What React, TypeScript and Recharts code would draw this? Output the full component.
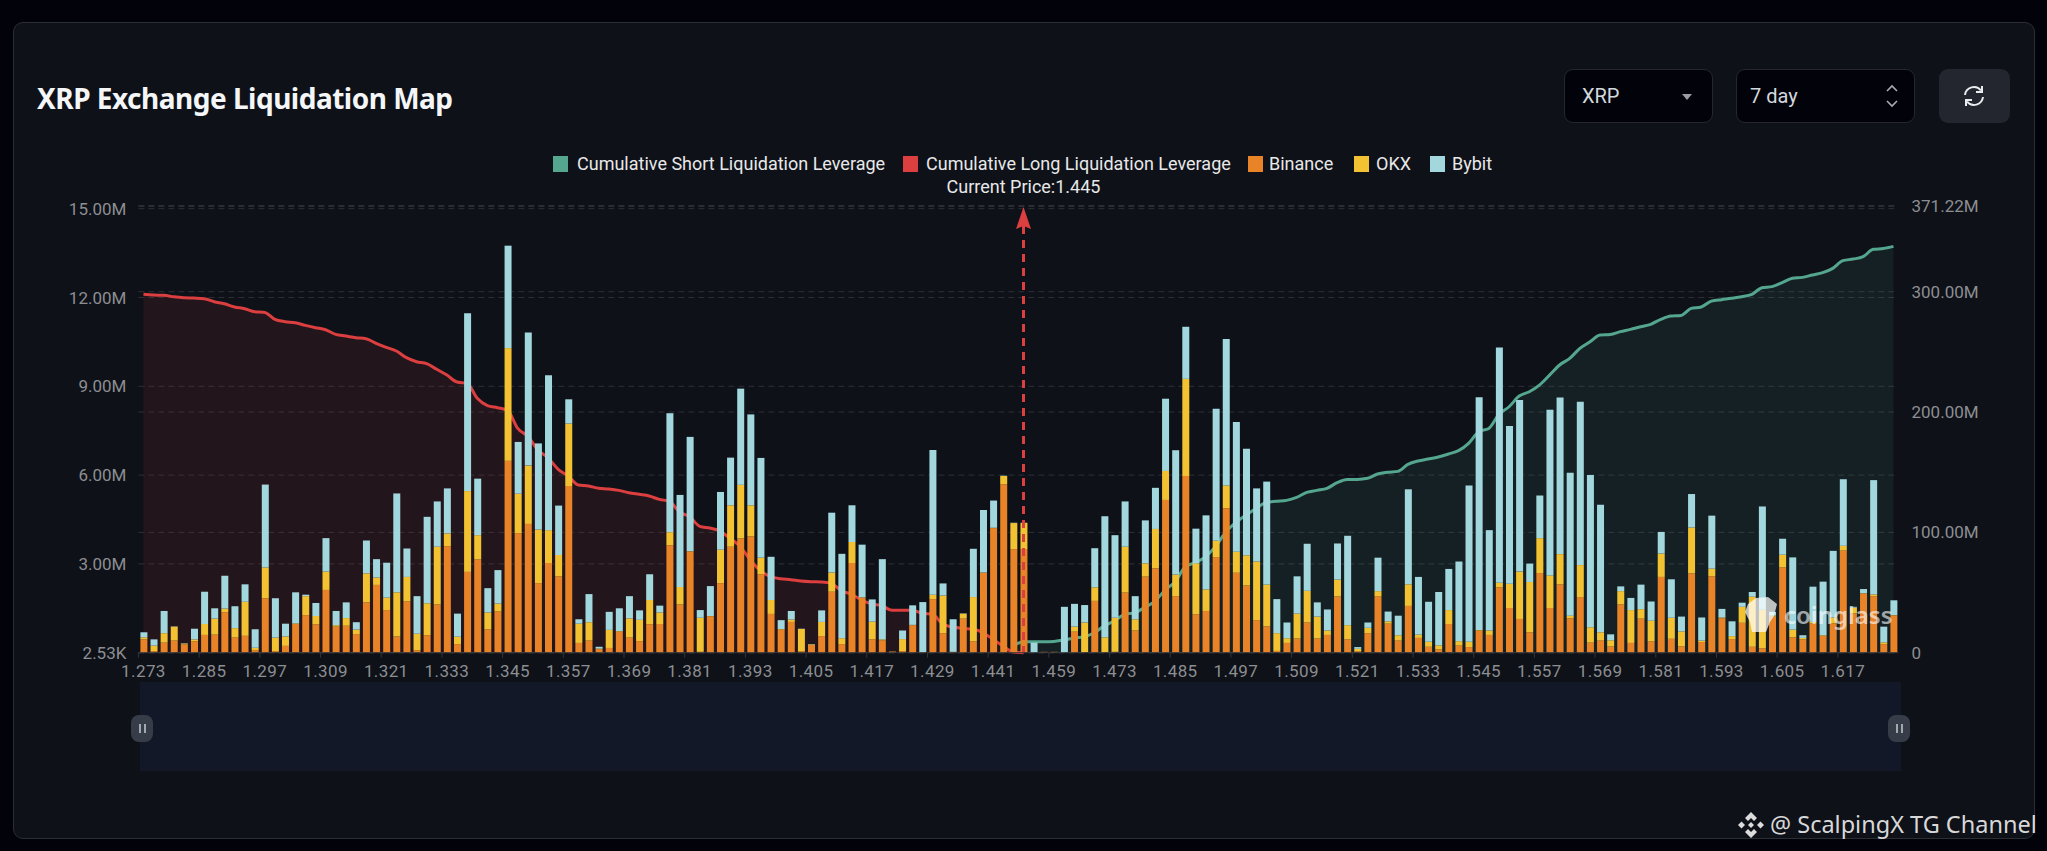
import {
  Area,
  Bar,
  CartesianGrid,
  ComposedChart,
  ReferenceLine,
  XAxis,
  YAxis,
} from "recharts"

const prices = [
  "1.273", "1.275", "1.277", "1.279", "1.281", "1.283", "1.285", "1.287", "1.289", "1.291",
  "1.293", "1.295", "1.297", "1.299", "1.301", "1.303", "1.305", "1.307", "1.309", "1.311",
  "1.313", "1.315", "1.317", "1.319", "1.321", "1.323", "1.325", "1.327", "1.329", "1.331",
  "1.333", "1.335", "1.337", "1.339", "1.341", "1.343", "1.345", "1.347", "1.349", "1.351",
  "1.353", "1.355", "1.357", "1.359", "1.361", "1.363", "1.365", "1.367", "1.369", "1.371",
  "1.373", "1.375", "1.377", "1.379", "1.381", "1.383", "1.385", "1.387", "1.389", "1.391",
  "1.393", "1.395", "1.397", "1.399", "1.401", "1.403", "1.405", "1.407", "1.409", "1.411",
  "1.413", "1.415", "1.417", "1.419", "1.421", "1.423", "1.425", "1.427", "1.429", "1.431",
  "1.433", "1.435", "1.437", "1.439", "1.441", "1.443", "1.444", "1.445", "1.451", "1.455",
  "1.459", "1.461", "1.463", "1.465", "1.467", "1.470", "1.473", "1.475", "1.477", "1.479",
  "1.481", "1.483", "1.485", "1.487", "1.489", "1.491", "1.493", "1.495", "1.497", "1.499",
  "1.501", "1.503", "1.505", "1.507", "1.509", "1.511", "1.513", "1.515", "1.517", "1.519",
  "1.521", "1.523", "1.525", "1.527", "1.529", "1.531", "1.533", "1.535", "1.537", "1.539",
  "1.541", "1.543", "1.545", "1.547", "1.549", "1.551", "1.553", "1.555", "1.557", "1.559",
  "1.561", "1.563", "1.565", "1.567", "1.569", "1.571", "1.573", "1.575", "1.577", "1.579",
  "1.581", "1.583", "1.585", "1.587", "1.589", "1.591", "1.593", "1.595", "1.597", "1.599",
  "1.601", "1.603", "1.605", "1.607", "1.609", "1.611", "1.613", "1.615", "1.617", "1.619",
  "1.621", "1.623", "1.625", "1.627",
]

// millions, per price level
const binance = [
  0.45, 0.05, 0.34, 0.41, 0.28, 0.38, 0.6, 0.61, 1.37, 0.51,
  0.57, 0.08, 1.84, 0.05, 0.23, 0.97, 1.27, 0.96, 2.12, 0.88,
  0.91, 0.63, 1.7, 2.29, 1.44, 0.55, 1.73, 0.08, 0.59, 1.63,
  3.6, 0.29, 2.73, 3.15, 0.79, 1.39, 6.48, 4.04, 4.35, 2.35,
  3.03, 2.58, 5.63, 0.33, 0.41, 0.12, 0.16, 0.71, 0.51, 0.39,
  0.96, 0.97, 3.63, 1.63, 3.42, 0.03, 1.23, 2.35, 3.58, 3.86,
  3.93, 2.65, 1.31, 0.78, 1.04, 0.05, 0.26, 0.56, 2.06, 0.29,
  3.03, 1.86, 0.45, 0.42, 0.03, 0.05, 0.93, 0.01, 1.81, 0.66,
  0.02, 1.15, 0.38, 2.7, 4.21, 5.69, 3.5, 3.5, 0, 0.03,
  0.03, 0, 0.71, 0.01, 1.75, 0.02, 0.03, 2.03, 0.75, 2.57,
  2.85, 5.16, 1.91, 5.97, 1.3, 1.41, 3.23, 4.88, 2.7, 2.27,
  1.1, 0.89, 0.06, 0.33, 0.48, 1.02, 0.48, 0.6, 1.9, 0.45,
  0.05, 0.66, 1.91, 0.98, 0.41, 1.58, 0.5, 0.2, 0.11, 0.97,
  0.24, 0.19, 0.75, 0.6, 2.21, 1.51, 1.14, 0.69, 2.69, 1.51,
  2.31, 1.16, 1.88, 0.34, 0.41, 0.21, 1.63, 0.33, 1.15, 0.38,
  2.56, 0.47, 0.21, 2.68, 0.36, 2.58, 1.16, 0.46, 1.01, 0.2,
  0.15, 1.22, 2.88, 0.52, 0.45, 0.99, 0.57, 0.99, 3.45, 1.33,
  2.0, 1.91, 0.29, 1.26,
]

const okx = [
  0.07, 0.19, 0.32, 0.47, 0.03, 0.07, 0.37, 0.54, 0.12, 0.32,
  1.15, 0.09, 1.04, 0.46, 0.32, 0.02, 0.64, 0.28, 0.62, 0.05,
  0.26, 0.15, 0.98, 0.25, 0.42, 1.49, 0.83, 0.56, 1.08, 1.95,
  0.43, 0.25, 2.73, 0.82, 0.57, 0.27, 3.81, 1.33, 1.97, 1.81,
  1.11, 0.72, 2.11, 0.65, 0.62, 0.02, 0.61, 0.02, 0.65, 0.72,
  0.82, 0.39, 0.44, 0.59, 0.01, 1.15, 0.01, 1.13, 1.4, 1.81,
  1.05, 0.56, 0.47, 0.02, 0.08, 0.75, 0.02, 0.48, 0.65, 0.2,
  0.71, 0.01, 0.6, 0.03, 0.01, 0.41, 0.01, 0.01, 0.15, 1.27,
  0.01, 0.17, 1.5, 0.01, 0.01, 0.28, 0.88, 0.88, 0, 0,
  0, 0, 0.17, 1.01, 0.46, 0.5, 1.15, 1.55, 0.38, 0.45,
  1.33, 0.98, 0.73, 3.28, 1.72, 0.73, 0.55, 0.77, 0.71, 1.02,
  1.98, 1.41, 0.6, 0.16, 0.84, 1.07, 0.74, 0.15, 0.57, 0.48,
  0.08, 0.18, 0.17, 0.08, 0.18, 0.73, 0.11, 0.17, 0.14, 0.47,
  0.15, 0.18, 0.02, 0.15, 0.15, 0.82, 1.6, 1.7, 1.18, 1.1,
  1.02, 0.09, 1.08, 0.52, 0.28, 0.21, 0.45, 1.11, 0.32, 0.7,
  0.79, 0.71, 0.51, 1.55, 0.05, 0.26, 0.03, 0.1, 0.54, 1.69,
  1.3, 0.04, 0.43, 0.26, 0.05, 0.05, 0.02, 0.2, 0.16, 0.19,
  0.01, 0.06, 0.06, 0.01,
]

const bybit = [
  0.17, 0.21, 0.75, 0.01, 0.01, 0.36, 1.09, 0.35, 1.11, 0.74,
  0.59, 0.62, 2.8, 1.33, 0.43, 1.05, 0.05, 0.44, 1.13, 0.48,
  0.53, 0.25, 1.11, 0.62, 1.18, 3.34, 0.96, 1.27, 2.92, 1.53,
  1.52, 0.78, 6.01, 1.91, 0.82, 1.13, 3.46, 1.75, 4.5, 2.91,
  5.23, 1.67, 0.82, 0.15, 0.95, 0.06, 0.61, 0.77, 0.75, 0.32,
  0.87, 0.23, 4.02, 3.11, 3.86, 0.26, 1.01, 1.95, 1.61, 3.25,
  3.07, 3.37, 1.46, 0.3, 0.29, 0.01, 0.01, 0.39, 2.02, 2.85,
  1.24, 1.78, 0.75, 2.71, 0, 0.29, 0.66, 1.69, 4.89, 0.41,
  1.1, 0.01, 1.63, 2.11, 0.92, 0.01, 0.01, 0.01, 0.34, 0,
  0, 1.55, 0.77, 0.59, 1.32, 4.09, 2.79, 1.53, 0.78, 1.45,
  1.39, 2.44, 4.2, 1.76, 1.17, 2.5, 4.46, 4.95, 4.38, 3.6,
  2.47, 3.48, 1.15, 0.53, 1.26, 1.59, 0.48, 0.71, 1.22, 3.02,
  0.06, 0.18, 1.13, 0.33, 0.66, 3.21, 1.95, 1.35, 1.8, 1.39,
  2.69, 5.28, 7.86, 3.39, 7.95, 5.33, 5.8, 0.62, 1.44, 5.6,
  5.29, 4.83, 5.52, 5.14, 4.31, 0.2, 0.16, 0.41, 0.83, 0.65,
  0.73, 1.3, 0.5, 1.13, 0.78, 1.79, 0.29, 0.5, 0.14, 0.16,
  3.49, 0.12, 0.54, 2.44, 0.09, 1.19, 1.81, 2.25, 2.25, 0.03,
  0.14, 3.86, 0.53, 0.5,
]

// starts at the first price level, stops at the current price
const cumulativeLong = [
  297.8, 297.2, 297.0, 295.8, 295.0, 294.7, 294.2, 291.7, 290.0, 287.3,
  285.9, 283.4, 282.8, 277.0, 275.1, 274.2, 272.0, 270.1, 268.4, 264.5,
  263.2, 261.8, 260.9, 257.1, 253.7, 250.7, 245.2, 241.8, 240.2, 235.5,
  230.7, 224.9, 223.8, 211.4, 205.3, 203.6, 201.4, 186.4, 179.8, 168.4,
  162.0, 152.4, 146.8, 139.3, 138.5, 136.6, 136.0, 134.9, 133.0, 131.6,
  130.2, 127.4, 125.8, 116.9, 113.0, 105.0, 103.6, 101.1, 95.0, 88.1,
  77.0, 68.1, 63.2, 61.5, 60.7, 59.6, 59.0, 58.7, 57.6, 51.5,
  48.5, 43.8, 40.4, 39.1, 35.2, 35.2, 35.2, 32.7, 31.9, 23.8,
  21.3, 20.2, 19.7, 16.6, 11.1, 5.5, 0.6, 0,
]

// starts at price level 86 and runs to the last one
const shortStart = 86
const cumulativeShort = [
  5.8, 9.1, 9.1, 9.1, 9.4, 10.5, 12.2, 13.3, 16.6, 22.4,
  26.6, 31.9, 33.2, 37.7, 42.9, 52.1, 59.0, 71.5, 74.8, 79.8,
  88.6, 100.3, 108.3, 114.4, 119.9, 124.9, 125.8, 126.6, 129.1, 133.2,
  134.9, 136.6, 141.3, 144.0, 144.0, 144.9, 148.5, 149.9, 150.7, 156.5,
  159.3, 160.9, 162.6, 165.1, 167.9, 174.0, 183.7, 186.4, 198.1, 204.4,
  213.3, 216.9, 222.4, 230.7, 239.1, 244.6, 252.9, 258.4, 264.0, 264.5,
  266.8, 268.7, 270.9, 272.9, 277.0, 279.8, 280.3, 286.1, 287.3, 292.2,
  293.4, 294.5, 295.8, 297.8, 303.3, 304.2, 307.5, 311.1, 311.9, 313.9,
  315.8, 319.4, 325.8, 327.1, 329.1, 335.2, 335.9, 337.7,
]

const leftTicks = [0.00253, 3, 6, 9, 12, 15]
const leftTickLabels = ["2.53K", "3.00M", "6.00M", "9.00M", "12.00M", "15.00M"]
const rightTicks = [0, 100, 200, 300, 371.22]
const rightTickLabels = ["0", "100.00M", "200.00M", "300.00M", "371.22M"]

const currentPrice = "1.445"

const legendItems = [
  { label: "Cumulative Short Liquidation Leverage", color: "#55a68f", left: 553, textLeft: 577 },
  { label: "Cumulative Long Liquidation Leverage", color: "#dc3f3f", left: 903, textLeft: 926 },
  { label: "Binance", color: "#e88327", left: 1248, textLeft: 1269 },
  { label: "OKX", color: "#f2c233", left: 1354, textLeft: 1376 },
  { label: "Bybit", color: "#a2d8dd", left: 1430, textLeft: 1452 },
]

const rows = prices.map((price, i) => ({
  price,
  binance: binance[i],
  okx: okx[i],
  bybit: bybit[i],
  long: cumulativeLong[i] ?? null,
  short: i >= shortStart ? cumulativeShort[i - shortStart] : null,
}))

const axisFont = "Roboto, sans-serif"
const axisColor = "#8c8e92"

function PriceTick({ x, y, payload }: any) {
  return (
    <g>
      <line x1={x - 5} x2={x - 5} y1={y - 8} y2={y - 3} stroke="#33363c" />
      <text
        x={x}
        y={y + 16}
        textAnchor="middle"
        fill={axisColor}
        fontSize={17}
        letterSpacing={0.4}
        fontFamily={axisFont}
      >
        {payload.value}
      </text>
    </g>
  )
}

function PriceMarker({ x1, y1, y2 }: any) {
  const top = Math.min(y1, y2)
  const bottom = Math.max(y1, y2)
  return (
    <g>
      <line
        x1={x1}
        x2={x1}
        y1={top + 20}
        y2={bottom}
        stroke="#dc3f3f"
        strokeWidth={3}
        strokeDasharray="8 6"
      />
      <polygon
        points={`${x1},${top + 1} ${x1 - 7.5},${top + 23} ${x1},${top + 20} ${x1 + 7.5},${top + 23}`}
        fill="#dc3f3f"
      />
      <text
        x={x1}
        y={top - 13}
        textAnchor="middle"
        fill="#e8e8e8"
        fontSize={18}
        fontFamily={axisFont}
      >
        Current Price:{currentPrice}
      </text>
    </g>
  )
}

function SliderHandle({ left }: { left: number }) {
  return (
    <div
      style={{
        position: "absolute",
        left,
        top: 715,
        width: 22,
        height: 27,
        borderRadius: 8,
        background: "#363d48",
        display: "flex",
        alignItems: "center",
        justifyContent: "center",
        gap: 3,
      }}
    >
      <div style={{ width: 2, height: 9, background: "#a4a8ae" }} />
      <div style={{ width: 2, height: 9, background: "#a4a8ae" }} />
    </div>
  )
}

export default function App() {
  return (
    <div
      style={{
        position: "absolute",
        left: 0,
        top: 0,
        width: 2047,
        height: 851,
        overflow: "hidden",
        background: "#02030a",
        fontFamily: axisFont,
      }}
    >
      <div
        style={{
          position: "absolute",
          left: 13,
          top: 22,
          width: 2022,
          height: 817,
          boxSizing: "border-box",
          background: "#0e1118",
          border: "1px solid #2b2e33",
          borderRadius: 10,
        }}
      />
      <div
        style={{
          position: "absolute",
          left: 37,
          top: 79,
          fontFamily: "'Noto Sans', sans-serif",
          fontWeight: 700,
          fontSize: 28,
          lineHeight: "38px",
          letterSpacing: -0.5,
          color: "#f4f6f8",
          whiteSpace: "nowrap",
        }}
      >
        XRP Exchange Liquidation Map
      </div>

      {/* header controls */}
      <div
        style={{
          position: "absolute",
          left: 1564,
          top: 69,
          width: 149,
          height: 54,
          boxSizing: "border-box",
          background: "#02030a",
          border: "1px solid #24272d",
          borderRadius: 9,
          color: "#d3d8de",
          fontSize: 20,
          lineHeight: "52px",
          paddingLeft: 17,
        }}
      >
        XRP
      </div>
      <svg style={{ position: "absolute", left: 1681, top: 93 }} width={12} height={8}>
        <polygon points="1,1 11,1 6,7" fill="#9a9da1" />
      </svg>
      <div
        style={{
          position: "absolute",
          left: 1736,
          top: 69,
          width: 179,
          height: 54,
          boxSizing: "border-box",
          background: "#02030a",
          border: "1px solid #24272d",
          borderRadius: 9,
          color: "#d3d8de",
          fontSize: 20,
          lineHeight: "52px",
          paddingLeft: 13,
        }}
      >
        7 day
      </div>
      <svg style={{ position: "absolute", left: 1885, top: 84 }} width={14} height={24}>
        <path d="M2 7 L7 2 L12 7 M2 17 L7 22 L12 17" stroke="#a8abaf" strokeWidth={1.6} fill="none" />
      </svg>
      <div
        style={{
          position: "absolute",
          left: 1939,
          top: 69,
          width: 71,
          height: 54,
          background: "#23262e",
          borderRadius: 9,
        }}
      />
      <svg style={{ position: "absolute", left: 1962, top: 84 }} width={24} height={24} viewBox="0 0 24 24">
        <path
          d="M3 11 A9 9 0 0 1 19 6.5 M21 13 A9 9 0 0 1 5 17.5"
          stroke="#e9ebee"
          strokeWidth={2}
          fill="none"
        />
        <path d="M20 2 V8 H14 M4 22 V16 H10" stroke="#e9ebee" strokeWidth={2} fill="none" />
      </svg>

      {legendItems.map((item) => (
        <div key={item.label}>
          <div
            style={{
              position: "absolute",
              left: item.left,
              top: 156,
              width: 15,
              height: 16,
              background: item.color,
            }}
          />
          <div
            style={{
              position: "absolute",
              left: item.textLeft,
              top: 154,
              fontSize: 18,
              lineHeight: "20px",
              color: "#e8e8e8",
              whiteSpace: "nowrap",
            }}
          >
            {item.label}
          </div>
        </div>
      ))}

      {/* zoom slider */}
      <div
        style={{
          position: "absolute",
          left: 140,
          top: 682,
          width: 1761,
          height: 89,
          background: "#121827",
        }}
      />
      <SliderHandle left={131} />
      <SliderHandle left={1888} />

      <div style={{ position: "absolute", left: 0, top: 0 }}>
        <ComposedChart
          width={2047}
          height={851}
          data={rows}
          margin={{ top: 206, right: 48.5, bottom: 168.3, left: 58.4 }}
          barSize={7}
        >
          <CartesianGrid
            yAxisId="left"
            vertical={false}
            stroke="rgba(255,255,255,0.13)"
            strokeDasharray="6 4"
          />
          <CartesianGrid
            yAxisId="right"
            vertical={false}
            stroke="rgba(255,255,255,0.13)"
            strokeDasharray="6 4"
          />
          <XAxis
            dataKey="price"
            interval={5}
            height={30}
            tick={<PriceTick />}
            tickLine={false}
            axisLine={{ stroke: "#33363c" }}
          />
          <YAxis
            yAxisId="left"
            width={80}
            domain={[0.00253, 15.09]}
            ticks={leftTicks}
            interval={0}
            axisLine={false}
            tickLine={false}
            tickMargin={12}
            tickSize={0}
            tick={{ fill: axisColor, fontSize: 17, fontFamily: axisFont }}
            tickFormatter={(v) => leftTickLabels[leftTicks.indexOf(v)]}
          />
          <YAxis
            yAxisId="right"
            orientation="right"
            width={100}
            domain={[0, 371.22]}
            ticks={rightTicks}
            interval={0}
            axisLine={false}
            tickLine={false}
            tickMargin={13}
            tickSize={0}
            tick={{ fill: axisColor, fontSize: 17, fontFamily: axisFont }}
            tickFormatter={(v) => rightTickLabels[rightTicks.indexOf(v)]}
          />
          <Bar yAxisId="left" dataKey="binance" stackId="a" fill="#e88327" isAnimationActive={false} />
          <Bar yAxisId="left" dataKey="okx" stackId="a" fill="#f2c233" isAnimationActive={false} />
          <Bar yAxisId="left" dataKey="bybit" stackId="a" fill="#a2d8dd" isAnimationActive={false} />
          <Area
            yAxisId="right"
            type="monotone"
            dataKey="long"
            stroke="#dc3f3f"
            strokeWidth={3}
            fill="#dc3f3f"
            fillOpacity={0.1}
            dot={false}
            activeDot={false}
            isAnimationActive={false}
          />
          <Area
            yAxisId="right"
            type="monotone"
            dataKey="short"
            stroke="#55a68f"
            strokeWidth={3}
            fill="#55a68f"
            fillOpacity={0.1}
            dot={false}
            activeDot={false}
            isAnimationActive={false}
          />
          <ReferenceLine yAxisId="left" x={currentPrice} shape={<PriceMarker />} />
        </ComposedChart>
      </div>

      {/* coinglass watermark */}
      <svg style={{ position: "absolute", left: 1744, top: 596 }} width={34} height={38} viewBox="0 0 34 38">
        <path
          d="M4 8 L12 2 L24 1 L33 8 L30 20 L26 26 L22 36 L8 36 L6 26 L1 16 Z"
          fill="#ffffff"
          fillOpacity={0.72}
        />
      </svg>
      <div
        style={{
          position: "absolute",
          left: 1784,
          top: 596,
          fontSize: 24,
          lineHeight: "38px",
          fontFamily: "'Noto Sans', sans-serif",
          fontWeight: 600,
          color: "rgba(255,255,255,0.62)",
          whiteSpace: "nowrap",
        }}
      >
        coinglass
      </div>

      {/* reposter credit */}
      <svg style={{ position: "absolute", left: 1737, top: 811 }} width={28} height={28} viewBox="0 0 28 28">
        <g fill="#dcdcdc">
          <polygon points="14,1 20,7 17,10 14,7 11,10 8,7" />
          <polygon points="14,27 8,21 11,18 14,21 17,18 20,21" />
          <polygon points="4.5,10.5 8,14 4.5,17.5 1,14" />
          <polygon points="23.5,10.5 27,14 23.5,17.5 20,14" />
          <polygon points="14,11 17,14 14,17 11,14" />
        </g>
      </svg>
      <div
        style={{
          position: "absolute",
          left: 1770,
          top: 808,
          fontFamily: "'Noto Sans', sans-serif",
          fontSize: 23.5,
          lineHeight: "32px",
          color: "#d8d8d8",
          whiteSpace: "nowrap",
        }}
      >
        @ ScalpingX TG Channel
      </div>
    </div>
  )
}
